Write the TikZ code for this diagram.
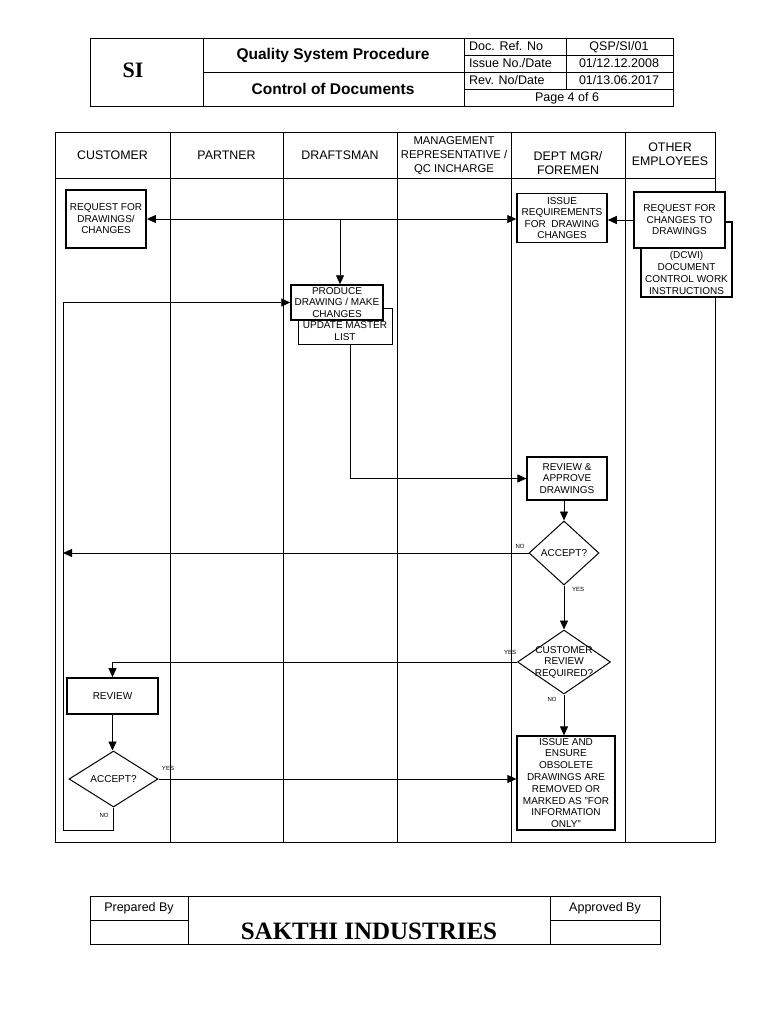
\documentclass[tikz,border=0pt]{standalone}
\usepackage{fontspec}
\setmainfont{Liberation Sans}
\newfontfamily\serifb{Liberation Serif}
\usetikzlibrary{shapes.geometric,arrows.meta}
\begin{document}
\begin{tikzpicture}[x=1pt,y=-1pt,
  frame/.style={draw, line width=0.9pt},
  box/.style={draw, line width=1.2pt, fill=white, align=center, inner sep=0pt, font=\fontsize{10}{11.5}\selectfont},
  thickbox/.style={box, line width=1.8pt},
  dia/.style={draw, line width=1pt, shape=diamond, inner sep=0pt, fill=white},
  txt/.style={align=center, inner sep=0pt, font=\fontsize{10}{11.5}\selectfont},
  hdr/.style={align=center, inner sep=0pt, font=\fontsize{12.4}{14}\selectfont},
  tiny/.style={inner sep=0pt, font=\fontsize{6}{6}\selectfont},
  conn/.style={line width=0.9pt},
  arr/.style={conn, -{Triangle[length=9pt,width=8pt]}},
  arrb/.style={conn, {Triangle[length=9pt,width=8pt]}-{Triangle[length=9pt,width=8pt]}}]
\useasboundingbox[fill=white] (0,0) rectangle (768,1024);

% ---------------- header table
\draw[frame] (90,38) rectangle (673,106);
\draw[frame] (203,38) -- (203,106) (464,38) -- (464,106);
\draw[frame] (566,38) -- (566,89);
\draw[frame] (464,55) -- (673,55) (203,72) -- (673,72) (464,89) -- (673,89);
\node[inner sep=0pt, font=\serifb\bfseries\fontsize{22}{22}\selectfont] (si) at (133,70) {SI};
\node[inner sep=0pt, font=\bfseries\fontsize{15.5}{16}\selectfont] (qsp) at (333,55) {Quality System Procedure};
\node[inner sep=0pt, font=\bfseries\fontsize{15.5}{16}\selectfont] (cod) at (333,89) {Control of Documents};
\tikzset{hc/.style={inner sep=0pt, font=\fontsize{12.5}{13}\selectfont, anchor=base}}
\node[hc, anchor=base west] (h1) at (469,51) {Doc. Ref. No};
\node[hc, anchor=base west] (h2) at (469,68) {Issue No./Date};
\node[hc, anchor=base west] (h3) at (469,85) {Rev. No/Date};
\node[hc] (v1) at (619,51) {QSP/SI/01};
\node[hc] (v2) at (619,68) {01/12.12.2008};
\node[hc] (v3) at (619,85) {01/13.06.2017};
\node[hc] (pg) at (567,102) {Page 4 of 6};

% ---------------- swimlanes
\draw[frame] (55,132) rectangle (715,842);
\draw[frame] (55,178) -- (715,178);
\foreach \xx in {170,283,397,511,625} \draw[frame] (\xx,132) -- (\xx,842);
\node[hdr] (l1) at (112.5,155) {CUSTOMER};
\node[hdr] (l2) at (226.5,155) {PARTNER};
\node[hdr] (l3) at (340,155) {DRAFTSMAN};
\node[hdr, font=\fontsize{11.3}{14}\selectfont] (l4) at (454,156) {MANAGEMENT\\REPRESENTATIVE /\\QC INCHARGE};
\node[hdr] (l5) at (568,163.5) {DEPT MGR/\\FOREMEN};
\node[hdr] (l6) at (670,154) {OTHER\\EMPLOYEES};

% ---------------- nodes
\node[thickbox, minimum width=80, minimum height=58] (req) at (106,219) {REQUEST FOR\\DRAWINGS/\\CHANGES};
\node[box, line width=1.5pt, minimum width=90, minimum height=49] (iss) at (562,218) {ISSUE\\REQUIREMENTS\\FOR\ \ DRAWING\\CHANGES};
\node[box, minimum width=91, minimum height=75] (dcwi) at (686.5,259.5) {};
\node[txt, font=\fontsize{10}{12}\selectfont] (dcwit) at (686.5,273) {(DCWI)\\DOCUMENT\\CONTROL WORK\\INSTRUCTIONS};
\node[box, minimum width=91, minimum height=56] (oreq) at (679.5,220) {REQUEST FOR\\CHANGES TO\\DRAWINGS};

\node[box, line width=1pt, minimum width=94, minimum height=36] (upd) at (345,326) {};
\node[txt] (updt) at (345,331) {UPDATE MASTER\\LIST};
\node[box, line width=1.5pt, minimum width=92, minimum height=35] (prod) at (337,302.5) {PRODUCE\\DRAWING / MAKE\\CHANGES};

\node[box, minimum width=80, minimum height=43] (rev) at (567,478.5) {REVIEW \&\\APPROVE\\DRAWINGS};
\node[dia, minimum width=70, minimum height=64, label={[txt]center:ACCEPT?}] (acc1) at (564,553) {};
\node[dia, minimum width=93, minimum height=64, label={[txt]center:CUSTOMER\\REVIEW\\REQUIRED?}] (crr) at (564,662) {};
\node[box, minimum width=98, minimum height=94, font=\fontsize{10}{11.8}\selectfont] (iss2) at (566,783) {ISSUE AND\\ENSURE\\OBSOLETE\\DRAWINGS ARE\\REMOVED OR\\MARKED AS "FOR\\INFORMATION\\ONLY"};

\node[thickbox, minimum width=91, minimum height=36] (crev) at (112.5,696) {REVIEW};
\node[dia, minimum width=89, minimum height=56, label={[txt]center:ACCEPT?}] (cacc) at (113.5,779) {};

% ---------------- small labels
\node[tiny] (n1) at (520,546) {NO};
\node[tiny] (y1) at (578,589) {YES};
\node[tiny] (y2) at (510,652) {YES};
\node[tiny] (n2) at (552,699) {NO};
\node[tiny] (y3) at (168,768) {YES};
\node[tiny] (n3) at (104,815) {NO};

% ---------------- connectors
\coordinate (br) at (340,219);
\coordinate (lx) at (63,553);
\coordinate (lb) at (63,830);
\coordinate (ud) at (350,344);
\draw[arrb] (req.east) -- (req.east -| iss.west);
\draw[arr] (br) -- (br |- prod.north);
\draw[arr] (oreq.west) -- (oreq.west -| iss.east);
\draw[arr] (ud) |- (rev.west);
\draw[arr] (rev.south -| acc1.north) -- (acc1.north);
\draw[arr] (acc1.west) -- (lx);
\draw[arr] (acc1.south) -- (crr.north);
\draw[arr] (crr.west) -| (crev.north);
\draw[arr] (crr.south) -- (crr.south |- iss2.north);
\draw[arr] (crev.south) -- (crev.south |- cacc.north);
\draw[arr] (cacc.east) -- (cacc.east -| iss2.west);
\draw[arr] (cacc.south) |- (lb) |- (prod.west);

% ---------------- footer
\draw[frame] (90,896) rectangle (660,944);
\draw[frame] (188,896) -- (188,944) (550,896) -- (550,944);
\draw[frame] (90,920) -- (188,920) (550,920) -- (660,920);
\node[inner sep=0pt, font=\fontsize{12.5}{13}\selectfont] (pb) at (139,908) {Prepared By};
\node[inner sep=0pt, font=\fontsize{12.5}{13}\selectfont] (ab) at (605,908) {Approved By};
\node[inner sep=0pt, font=\serifb\bfseries\fontsize{25}{25}\selectfont] (sk) at (369,931) {SAKTHI INDUSTRIES};
\end{tikzpicture}
\end{document}
